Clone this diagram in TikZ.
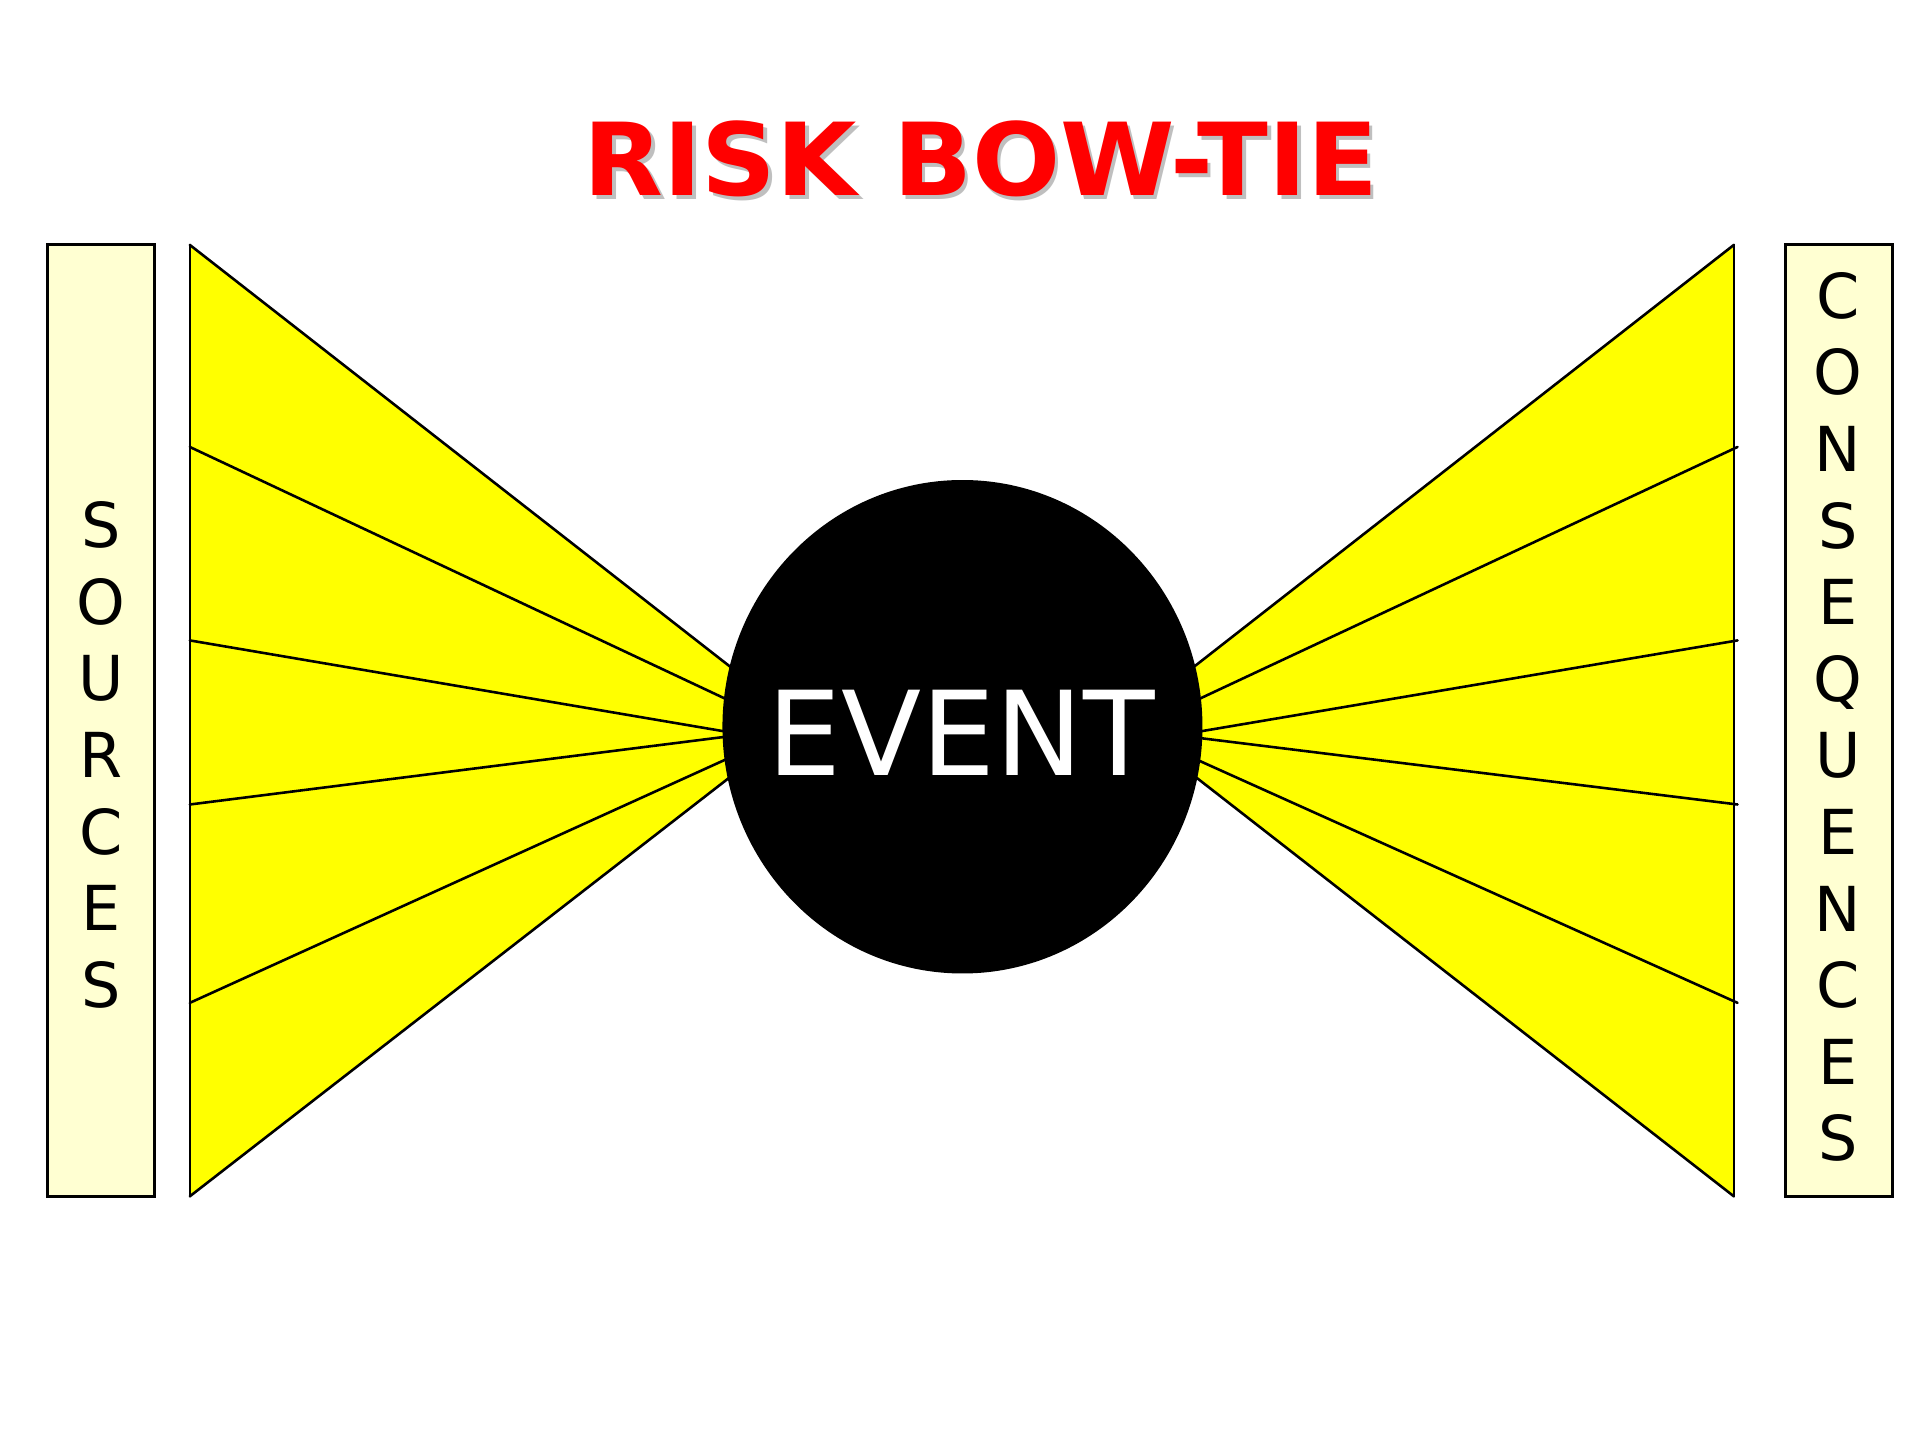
\documentclass[tikz,border=0pt]{standalone}
\usepackage{fontspec}
\setmainfont{DejaVu Sans}
\usetikzlibrary{shapes.geometric,calc}
\definecolor{fanyellow}{HTML}{FFFF00}
\definecolor{boxcream}{HTML}{FFFFD2}
\definecolor{titlered}{HTML}{FF0000}
\begin{document}
\begin{tikzpicture}[x=0.25mm,y=-0.25mm,
  fanline/.style={draw=black,line width=1.5pt,line cap=round},
  ray/.style={fanline,shorten >=-2mm},
  sidebox/.style={draw=black,line width=1.7pt,fill=boxcream,minimum width=21.75mm,minimum height=194.25mm,inner sep=0pt},
  boxtext/.style={align=center,font=\fontsize{36}{44.5}\selectfont,text=black,inner sep=0pt},
  eventc/.style={ellipse,fill=black,minimum width=98mm,minimum height=100.75mm,inner sep=0pt},
  eventtxt/.style={text=white,font=\fontsize{68}{80}\selectfont,inner sep=0pt},
  titletxt/.style={text=titlered,font=\fontsize{58.5}{70}\selectfont\bfseries,inner sep=0pt,xscale=1.03},
  titleshadow/.style={text=black!25,font=\fontsize{58.5}{70}\selectfont\bfseries,inner sep=0pt,xscale=1.03}]
\useasboundingbox (0,0) rectangle (1568,1176);
\fill[white] (0,0) rectangle (1568,1176);

% title
\node[titleshadow,anchor=base] (tshadow) at (804,163) {RISK BOW-TIE};
\node[titletxt,anchor=base] (title) at (801,160) {RISK BOW-TIE};

% left fan
\coordinate (L0) at (155,200);
\coordinate (L1) at (155,365);
\coordinate (L2) at (155,523);
\coordinate (L3) at (155,657);
\coordinate (L4) at (155,819);
\coordinate (L5) at (155,977);
\coordinate (E0) at (597,545);
\coordinate (E1) at (591,570);
\coordinate (E2) at (590,597);
\coordinate (E3) at (590,602);
\coordinate (E4) at (591,621);
\coordinate (E5) at (597,634);
\fill[fanyellow] (L0) -- (E0) -- (700,593) -- (E5) -- (L5) -- cycle;
\draw[fanline] (L0) -- (L5);
\foreach \i in {0,...,5} { \draw[ray] (L\i) -- (E\i); }

% right fan
\coordinate (R0) at (1416,200);
\coordinate (R1) at (1419,365);
\coordinate (R2) at (1419,523);
\coordinate (R3) at (1419,657);
\coordinate (R4) at (1419,819);
\coordinate (R5) at (1416,977);
\coordinate (F0) at (977,543);
\coordinate (F1) at (981,570);
\coordinate (F2) at (982,597);
\coordinate (F3) at (982,603);
\coordinate (F4) at (981,622);
\coordinate (F5) at (977,635);
\fill[fanyellow] (R0) -- (F0) -- (870,593) -- (F5) -- (R5) -- cycle;
\draw[fanline] (R0) -- (R5);
\foreach \i in {0,...,5} { \draw[ray] (R\i) -- (F\i); }

% event
\node[eventc] (event) at (786,593.5) {};
\node[eventtxt,anchor=base] (evtxt) at (785,633) {EVENT};

% side boxes
\node[sidebox] (sources) at (82.5,588.5) {};
\node[boxtext] (srctext) at (82.5,616.5) {S\\O\\U\\R\\C\\E\\S};
\node[sidebox] (conseq) at (1502,588.5) {};
\node[boxtext] (context) at (1501,585.5) {C\\O\\N\\S\\E\\Q\\U\\E\\N\\C\\E\\S};
\end{tikzpicture}
\end{document}
